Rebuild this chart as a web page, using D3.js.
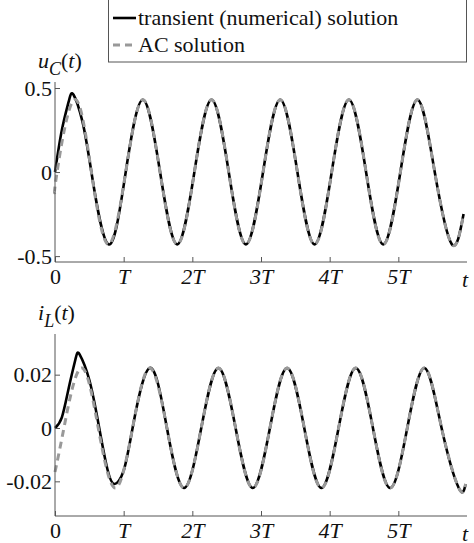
<!DOCTYPE html>
<html><head><meta charset="utf-8">
<script src="https://cdn.jsdelivr.net/npm/d3@7"></script>
<style>body{margin:0;background:#fff}text{font-family:"Liberation Serif","DejaVu Serif","Times New Roman",serif}</style>
</head><body><svg width="474" height="543"></svg>
<script>
// times in periods T
const xTicks = ["0", "T", "2T", "3T", "4T", "5T"];
const uTicks = [-0.5, 0, 0.5];
const iTicks = [-0.02, 0, 0.02];

const uAC = [[0,-0.12],[0.03,0],[0.28,0.43],[0.53,0],[0.78,-0.43],[1.03,0],[1.28,0.43],[1.53,0],[1.78,-0.43],
  [2.03,0],[2.28,0.43],[2.53,0],[2.78,-0.43],[3.03,0],[3.28,0.43],[3.53,0],[3.78,-0.43],
  [4.03,0],[4.28,0.43],[4.53,0],[4.78,-0.43],[5.03,0],[5.28,0.43],[5.53,0],[5.78,-0.43],[5.95,-0.25]];
const uTr = [[0,0],[0.1,0.25],[0.2,0.42],[0.27,0.46],[0.4,0.3],[0.53,0],[0.78,-0.43],[1.03,0],[1.28,0.43],[1.53,0],[1.78,-0.43],
  [2.03,0],[2.28,0.43],[2.53,0],[2.78,-0.43],[3.03,0],[3.28,0.43],[3.53,0],[3.78,-0.43],
  [4.03,0],[4.28,0.43],[4.53,0],[4.78,-0.43],[5.03,0],[5.28,0.43],[5.53,0],[5.78,-0.43],[5.95,-0.25]];
const iAC = [[0,-0.0165],[0.13,0],[0.38,0.0225],[0.63,0],[0.88,-0.0225],[1.13,0],[1.38,0.0225],[1.63,0],[1.88,-0.0225],
  [2.13,0],[2.38,0.0225],[2.63,0],[2.88,-0.0225],[3.13,0],[3.38,0.0225],[3.63,0],[3.88,-0.0225],
  [4.13,0],[4.38,0.0225],[4.63,0],[4.88,-0.0225],[5.13,0],[5.38,0.0225],[5.63,0],[5.88,-0.0225],[5.98,-0.021]];
const iTr = [[0,0],[0.1,0.004],[0.2,0.015],[0.3,0.026],[0.36,0.0275],[0.5,0.018],[0.63,0.002],[0.75,-0.014],[0.86,-0.021],[1.0,-0.016],
  [1.13,0],[1.38,0.0225],[1.63,0],[1.88,-0.0225],
  [2.13,0],[2.38,0.0225],[2.63,0],[2.88,-0.0225],[3.13,0],[3.38,0.0225],[3.63,0],[3.88,-0.0225],
  [4.13,0],[4.38,0.0225],[4.63,0],[4.88,-0.0225],[5.13,0],[5.38,0.0225],[5.63,0],[5.88,-0.0225],[5.98,-0.021]];

const FONT = '"Liberation Serif","DejaVu Serif",serif';
const svg = d3.select("svg");
const x = d3.scaleLinear().domain([0, 6]).range([55, 467]);

function panel(top, bottom, domain, ticks, fmt, ac, tr, label, sub) {
  const y = d3.scaleLinear().domain(domain).range([bottom, top]);
  const g = svg.append("g");
  const line = d3.line().x(d => x(d[0])).y(d => y(d[1])).curve(d3.curveNatural);
  g.append("path").datum(tr).attr("d", line).attr("fill", "none")
    .attr("stroke", "#000").attr("stroke-width", 2.6);
  g.append("path").datum(ac).attr("d", line).attr("fill", "none")
    .attr("stroke", "#999").attr("stroke-width", 3).attr("stroke-dasharray", "7,5");

  const ya = d3.axisLeft(y).tickValues(ticks).tickSize(-5).tickFormat(fmt).tickPadding(3);
  const gy = g.append("g").attr("transform", "translate(55,0)").call(ya);
  const xa = d3.axisBottom(x).tickValues([0,1,2,3,4,5]).tickSize(-5)
    .tickFormat((d, i) => xTicks[i]).tickPadding(6);
  const gx = g.append("g").attr("transform", `translate(0,${bottom})`).call(xa);
  [gx, gy].forEach(s => {
    s.selectAll(".tick line").attr("stroke", "#555");
    s.selectAll(".tick text").attr("font-size", 22).attr("font-family", FONT).attr("fill", "#111");
    s.select(".domain").remove();
  });
  gx.append("line").attr("x1", 55).attr("x2", 467).attr("stroke", "#555");
  gy.append("line").attr("y1", top - 6).attr("y2", bottom).attr("stroke", "#555");
  gx.selectAll(".tick text").attr("font-style", (d, i) => i ? "italic" : null);
  gx.append("text").attr("x", 465).attr("y", 25).attr("font-size", 22).attr("font-family", FONT)
    .attr("font-style", "italic").attr("fill", "#111").attr("text-anchor", "middle").text("t");

  const t = svg.append("text").attr("x", 38).attr("y", top - 20).attr("font-size", 22)
    .attr("font-family", FONT).attr("fill", "#111");
  t.append("tspan").attr("font-style", "italic").text(label);
  t.append("tspan").attr("font-style", "italic").attr("font-size", 18).attr("dy", 7).text(sub);
  t.append("tspan").attr("dy", -7).text("(");
  t.append("tspan").attr("font-style", "italic").text("t");
  t.append("tspan").text(")");
}

panel(88, 262, [-0.535, 0.5], uTicks, d => d === 0 ? "0" : d3.format(".1f")(d).replace("−", "-"), uAC, uTr, "u", "C");
panel(340, 516, [-0.033, 0.033], iTicks, d => d === 0 ? "0" : d3.format(".2f")(d).replace("−", "-"), iAC, iTr, "i", "L");

// legend
const lg = svg.append("g");
lg.append("rect").attr("x", 108.5).attr("y", -2).attr("width", 358).attr("height", 64)
  .attr("fill", "#fff").attr("stroke", "#555");
lg.append("line").attr("x1", 113).attr("x2", 136).attr("y1", 18).attr("y2", 18).attr("stroke", "#000").attr("stroke-width", 2.6);
lg.append("line").attr("x1", 113).attr("x2", 136).attr("y1", 45).attr("y2", 45).attr("stroke", "#999").attr("stroke-width", 3).attr("stroke-dasharray", "7,5");
lg.append("text").attr("x", 138).attr("y", 25).attr("font-size", 22).attr("font-family", FONT).attr("fill", "#111").text("transient (numerical) solution");
lg.append("text").attr("x", 138).attr("y", 52).attr("font-size", 22).attr("font-family", FONT).attr("fill", "#111").text("AC solution");
</script></body></html>
